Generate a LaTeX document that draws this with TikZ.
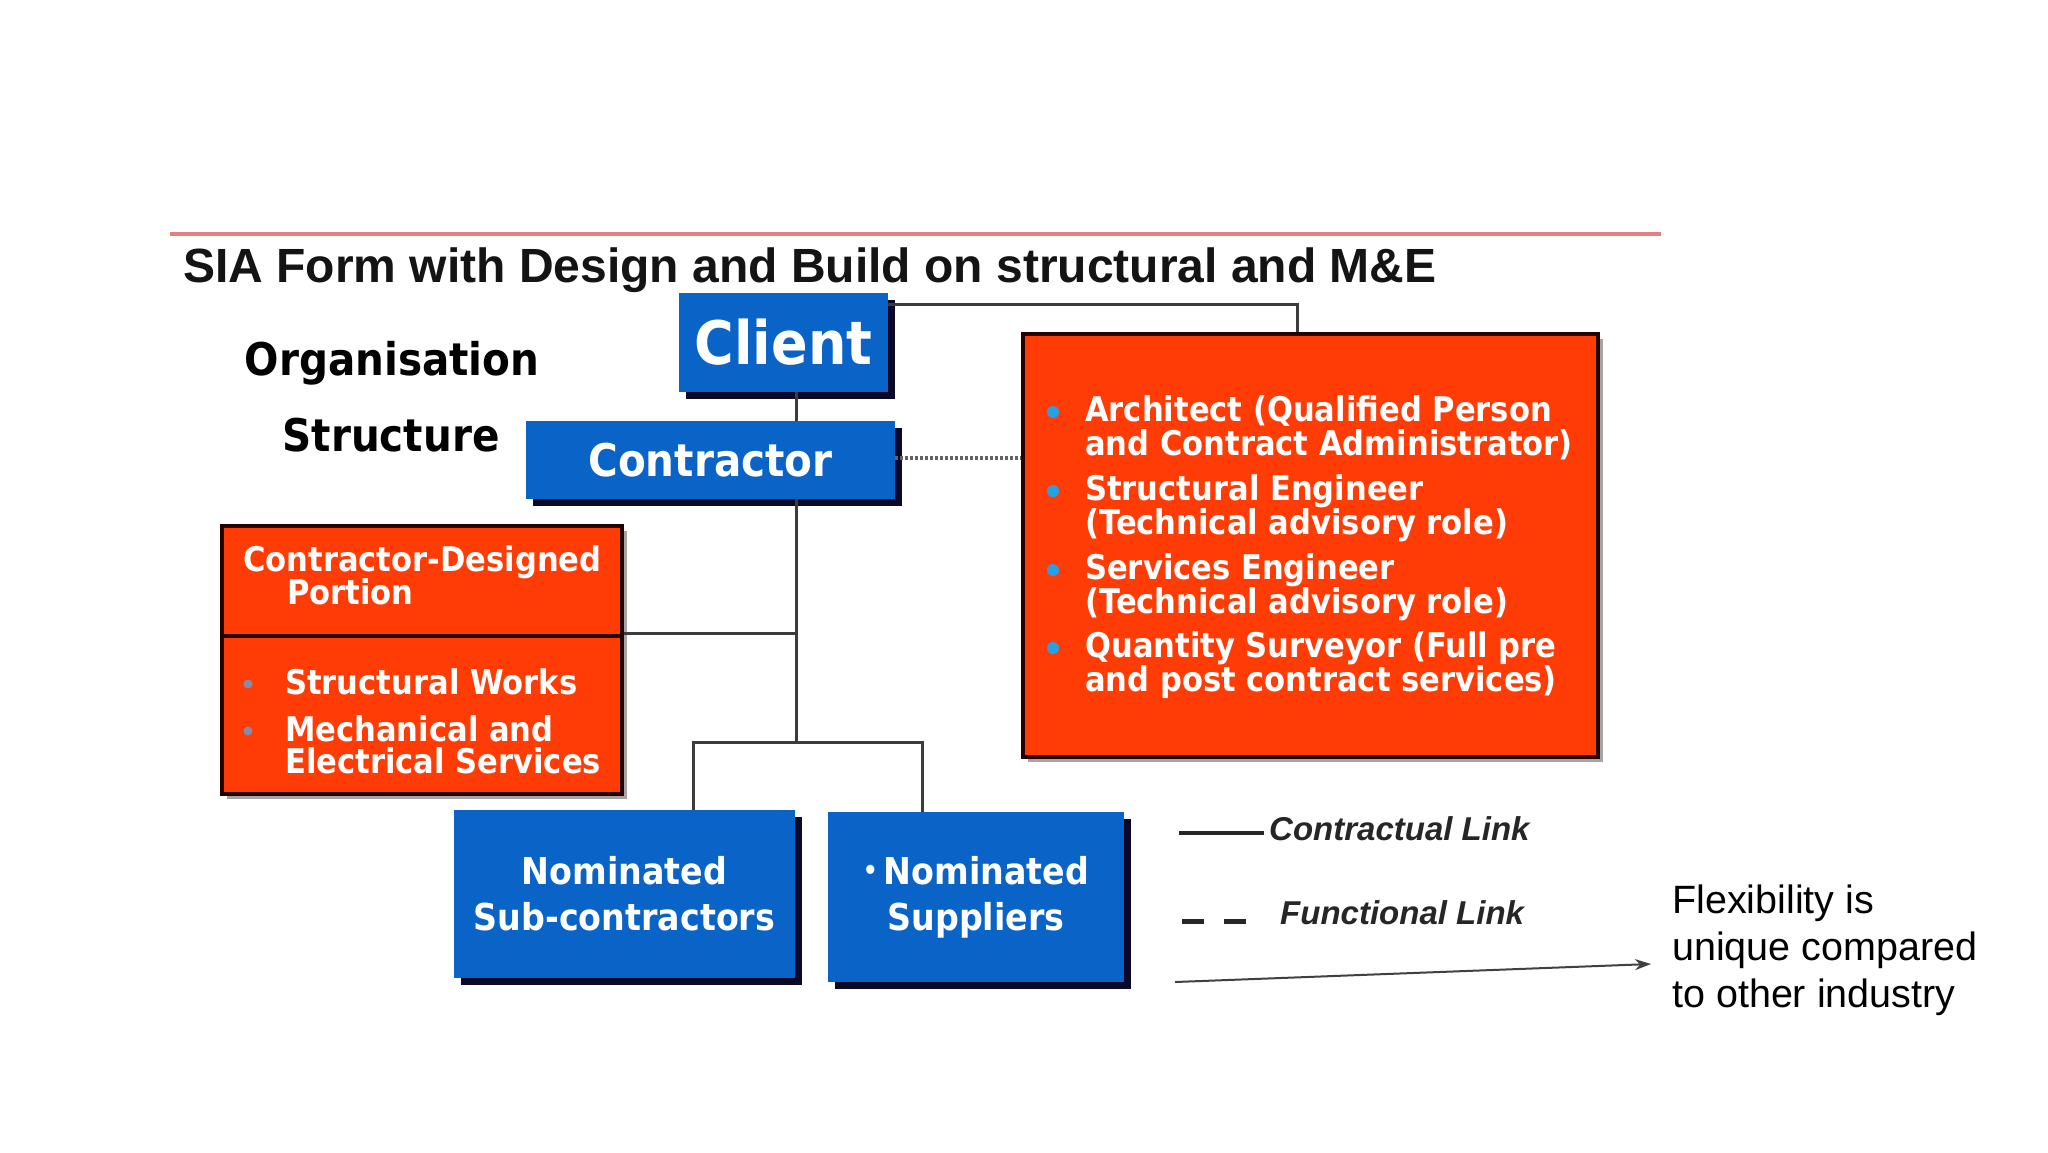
\documentclass[tikz,border=0pt]{standalone}
\usepackage{fontspec}
\setmainfont{Liberation Sans}
\newfontfamily\tah{DejaVu Sans}[FakeStretch=0.9]
\usetikzlibrary{arrows.meta,shadows,calc}
\definecolor{boxblue}{RGB}{10,100,200}
\definecolor{boxred}{RGB}{255,60,5}
\definecolor{shadownavy}{RGB}{10,10,40}
\definecolor{linkgrey}{RGB}{60,60,60}
\definecolor{rulered}{RGB}{232,125,130}
\definecolor{bulletblue}{RGB}{40,160,230}
\definecolor{bulletgrey}{RGB}{130,140,170}
\definecolor{titleblack}{RGB}{20,20,20}
\begin{document}
\begin{tikzpicture}[x=1pt,y=-1pt,
  bluebox/.style={rectangle, fill=boxblue, inner sep=0pt, text=white, align=center,
    drop shadow={opacity=1, fill=shadownavy, shadow xshift=7pt, shadow yshift=-7pt}},
  redbox/.style={rectangle, fill=boxred, draw=black!85!red, line width=4pt, inner sep=0pt,
    drop shadow={opacity=0.5, fill=black!70, shadow xshift=5pt, shadow yshift=-5pt}},
  link/.style={draw=linkgrey, line width=3pt},
  funclink/.style={draw=linkgrey!80, line width=4pt, dash pattern=on 2.5pt off 2.5pt},
  boxtext/.style={text=white, inner sep=0pt, anchor=base west, align=left},
  tahfont/.style={font=\tah\bfseries\fontsize{#1}{#1}\selectfont},
]
\useasboundingbox (0,0) rectangle (2048,1152);
\fill[white] (0,0) rectangle (2048,1152);

% rule and title
\coordinate (ruleL) at (170,234);
\coordinate (ruleR) at (1661,234);
\draw[rulered, line width=4pt] (ruleL) -- (ruleR);
\node[anchor=base west, inner sep=0pt, text=titleblack, font=\bfseries\fontsize{48}{50}\selectfont] (title) at (183,282) {SIA Form with Design and Build on structural and M\&E};

% side labels
\node[tahfont=45, text=black, inner sep=0pt] (org) at (392,363) {Organisation};
\node[tahfont=45, text=black, inner sep=0pt] (struct) at (391,435) {Structure};

% boxes
\node[redbox, minimum width=575pt, minimum height=423pt] (rbox) at (1310.5,545.5) {};
\node[redbox, minimum width=400pt, minimum height=268pt] (lbox) at (422,660) {};
\node[bluebox, minimum width=209pt, minimum height=99pt, tahfont=60] (client) at (783.5,342.5) {Client};
\node[bluebox, minimum width=369pt, minimum height=78pt, tahfont=45] (contractor) at (710.5,460) {Contractor};
\node[bluebox, minimum width=341pt, minimum height=168pt, font=\tah\bfseries\fontsize{37}{46}\selectfont] (sub) at (624.5,894) {Nominated\\Sub-contractors};
\node[bluebox, minimum width=296pt, minimum height=170pt, font=\tah\bfseries\fontsize{37}{46}\selectfont] (sup) at (976,897) {{\fontsize{26}{26}\selectfont\raisebox{5pt}{•}}\,Nominated\\Suppliers};

% left box divider
\draw[draw=black!85!red, line width=4pt] (lbox.west |- 0,636) -- (lbox.east |- 0,636);

% left box text
\node[boxtext, tahfont=34] (cdp1) at (243,571) {Contractor-Designed};
\node[boxtext, tahfont=34] (cdp2) at (287,604) {Portion};
\node[boxtext, tahfont=34] (sw) at (285,694) {Structural Works};
\node[boxtext, font=\tah\bfseries\fontsize{34}{32}\selectfont] (me) at (285,773) {Mechanical and\\Electrical Services};
\fill[bulletgrey] (248,684) circle (4.5);
\fill[bulletgrey] (248,731) circle (4.5);

% right box text (base anchor = last line baseline)
\node[boxtext, font=\tah\bfseries\fontsize{34}{34.5}\selectfont] (arch) at (1085,455.5) {Architect (Qualified Person\\and Contract Administrator)};
\node[boxtext, font=\tah\bfseries\fontsize{34}{34.5}\selectfont] (se) at (1085,534.5) {Structural Engineer\\(Technical advisory role)};
\node[boxtext, font=\tah\bfseries\fontsize{34}{34.5}\selectfont] (sve) at (1085,613.5) {Services Engineer\\(Technical advisory role)};
\node[boxtext, font=\tah\bfseries\fontsize{34}{34.5}\selectfont] (qs) at (1085,691.5) {Quantity Surveyor (Full pre\\and post contract services)};
\foreach \yy in {412,491,570,648} \fill[bulletblue] (1053,\yy) circle (6);

% connectors
\coordinate (tx) at (796,0);
\coordinate (cy) at (0,304);
\coordinate (rx) at (1297,0);
\coordinate (dy) at (0,458);
\coordinate (ly) at (0,633);
\coordinate (by) at (0,742);
\coordinate (bl) at (693,0);
\coordinate (br) at (922,0);
\draw[link] (client.south -| tx) -- (contractor.north -| tx);
\draw[link] (client.east |- cy) -| (rbox.north -| rx);
\draw[funclink] (contractor.east |- dy) -- (rbox.west |- dy);
\draw[link] (contractor.south -| tx) -- (tx |- by);
\draw[link] (lbox.east |- ly) -- (tx |- ly);
\draw[link] (sub.north -| bl) -- (bl |- by) -- (br |- by) -- (sup.north -| br);

% legend
\coordinate (cl1) at (1179,833);
\coordinate (cl2) at (1264,833);
\coordinate (fl1) at (1182,921);
\coordinate (fl2) at (1247,921);
\draw[draw=black!85, line width=4pt] (cl1) -- (cl2);
\draw[draw=black!85, line width=5pt, dash pattern=on 22pt off 20pt] (fl1) -- (fl2);
\node[anchor=base west, inner sep=0pt, text=black!85, font=\bfseries\itshape\fontsize{33}{33}\selectfont] (clt) at (1269,840) {Contractual Link};
\node[anchor=base west, inner sep=0pt, text=black!85, font=\bfseries\itshape\fontsize{33}{33}\selectfont] (flt) at (1280,924) {Functional Link};

% note
\node[anchor=base west, inner sep=0pt, align=left, text=black, font=\fontsize{39.5}{47}\selectfont] (flex) at (1672,1007) {Flexibility is\\unique compared\\to other industry};
\coordinate (ars) at (1175,982);
\coordinate (are) at (1651,964);
\draw[draw=black!75, line width=2pt, -{Stealth[length=16pt,width=11pt]}] (ars) -- (are);
\end{tikzpicture}
\end{document}
